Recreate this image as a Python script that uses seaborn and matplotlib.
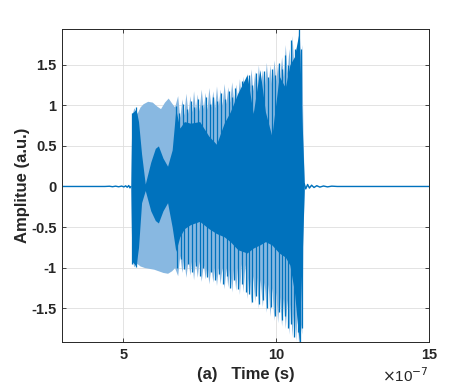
import matplotlib
matplotlib.use("Agg")
import matplotlib.pyplot as plt
import seaborn as sns
import pandas as pd

# time values are in units of 1e-7 s
# quiet baseline before and after the burst
pre_t = [3.0, 4.4, 4.55, 4.65, 4.75, 4.85, 4.95, 5.02, 5.08, 5.13, 5.18, 5.22, 5.25]
pre_a = [0.0, 0.0, 0.003, -0.003, 0.004, -0.004, 0.005, -0.006, 0.008, -0.01, 0.012, -0.018, 0.0]
post_t = [10.92, 10.97, 11.03, 11.09, 11.16, 11.24, 11.33, 11.43, 11.55, 11.68, 11.82, 12.0, 15.0]
post_a = [0.035, -0.03, 0.025, -0.02, 0.016, -0.013, 0.01, -0.008, 0.006, -0.005, 0.004, 0.0, 0.0]

# outer (light) envelope, upper edge
up_t = [5.25, 5.28, 5.35, 5.45, 5.55, 5.65, 5.8, 5.95, 6.1, 6.22, 6.35, 6.47, 6.58, 6.68,
        6.78, 6.85, 6.92, 6.98, 7.05, 7.12, 7.18, 7.24, 7.3, 7.36, 7.42, 7.48, 7.55, 7.62,
        7.68, 7.74, 7.8, 7.87, 7.93, 7.99, 8.05, 8.11, 8.17, 8.23, 8.3, 8.36, 8.42, 8.48,
        8.55, 8.61, 8.68, 8.74, 8.8, 8.86, 8.92, 8.98, 9.05, 9.11, 9.18, 9.24, 9.3, 9.36,
        9.42, 9.48, 9.55, 9.61, 9.68, 9.74, 9.8, 9.86, 9.93, 9.99, 10.05, 10.11, 10.18,
        10.24, 10.3, 10.36, 10.42, 10.47, 10.52, 10.58, 10.64, 10.69, 10.74, 10.8, 10.84,
        10.88, 10.92]
up_a = [0.0, 0.88, 0.97, 0.9, 0.98, 1.02, 1.05, 1.04, 0.99, 0.96, 1.04, 1.09, 1.03, 0.98,
        1.12, 0.85, 1.08, 0.88, 1.15, 0.9, 1.12, 0.92, 1.18, 0.95, 1.14, 0.93, 1.2, 0.96,
        1.16, 0.95, 1.22, 0.98, 1.18, 0.97, 1.24, 1.0, 1.2, 1.0, 1.27, 1.02, 1.23, 1.04,
        1.29, 1.05, 1.26, 1.08, 1.33, 1.1, 1.36, 1.12, 1.4, 1.15, 1.45, 1.18, 1.42, 1.2,
        1.5, 1.22, 1.44, 1.2, 1.53, 1.25, 1.5, 1.22, 1.56, 1.3, 1.52, 1.32, 1.6,
        1.35, 1.75, 1.4, 1.7, 1.45, 1.86, 1.5, 1.72, 1.55, 2.0, 1.6, 1.75,
        0.6, 0.05]

# outer (light) envelope, lower edge
lo_t = [5.25, 5.28, 5.35, 5.45, 5.55, 5.7, 5.85, 6.0, 6.15, 6.3, 6.45, 6.58, 6.68,
        6.78, 6.85, 6.92, 6.98, 7.05, 7.12, 7.18, 7.24, 7.3, 7.36, 7.42, 7.48, 7.55, 7.62,
        7.68, 7.74, 7.8, 7.87, 7.93, 7.99, 8.05, 8.11, 8.17, 8.23, 8.3, 8.36, 8.42, 8.48,
        8.55, 8.61, 8.68, 8.74, 8.8, 8.86, 8.92, 8.98, 9.05, 9.11, 9.18, 9.24, 9.3, 9.36,
        9.42, 9.48, 9.55, 9.61, 9.68, 9.74, 9.8, 9.86, 9.93, 9.99, 10.05, 10.11, 10.18,
        10.24, 10.3, 10.36, 10.42, 10.47, 10.52, 10.58, 10.64, 10.69, 10.74, 10.8, 10.84,
        10.88, 10.92]
lo_a = [0.0, -0.9, -0.99, -0.95, -0.98, -1.0, -1.01, -1.02, -1.04, -1.06, -1.07, -1.04, -1.0,
        -1.1, -0.85, -1.06, -0.88, -1.12, -0.9, -1.09, -0.9, -1.15, -0.92, -1.12, -0.92, -1.17, -0.95,
        -1.14, -0.95, -1.2, -0.98, -1.18, -0.98, -1.22, -1.0, -1.2, -1.0, -1.26, -1.0, -1.24, -1.0,
        -1.3, -1.0, -1.28, -0.98, -1.33, -0.95, -1.3, -0.96, -1.38, -1.05, -1.45, -1.1, -1.42, -1.12,
        -1.5, -1.15, -1.48, -1.18, -1.55, -1.2, -1.6, -1.25, -1.65, -1.3, -1.68, -1.35, -1.72,
        -1.38, -1.75, -1.4, -1.82, -1.45, -1.85, -1.5, -1.9, -1.55, -1.98, -1.7, -1.82,
        -0.6, -0.05]

# dense (dark) core of the signal
core_t = [5.25, 5.28, 5.42, 5.5, 5.6, 5.72, 5.9, 6.05, 6.15, 6.3, 6.45, 6.6, 6.72, 6.85,
          7.0, 7.2, 7.5, 7.8, 8.05, 8.3, 8.5, 8.75, 9.05, 9.25, 9.47, 9.65, 9.86, 10.1,
          10.3, 10.45, 10.6, 10.75, 10.85, 10.92]
core_up = [0.0, 0.9, 0.95, 0.8, 0.4, 0.03, 0.3, 0.47, 0.5, 0.35, 0.25, 0.45, 0.95, 0.72,
           0.8, 0.78, 0.8, 0.62, 0.52, 0.78, 0.92, 1.15, 1.38, 0.9, 1.44, 0.92, 0.62, 1.36,
           1.22, 1.5, 1.6, 1.9, 0.8, 0.05]
core_lo = [0.0, -0.92, -0.98, -0.75, -0.2, -0.05, -0.3, -0.42, -0.45, -0.3, -0.2, -0.5, -0.8, -0.62,
           -0.52, -0.47, -0.43, -0.52, -0.58, -0.62, -0.68, -0.78, -0.82, -0.76, -0.72, -0.68, -0.72, -0.82,
           -0.87, -0.97, -1.3, -1.9, -0.9, -0.05]

# individual dark spikes
spk_up_t = [5.3, 5.42, 6.72, 6.83, 6.95, 7.08, 7.2, 7.33, 7.45, 7.58, 7.7, 7.83, 7.95, 8.08,
            8.2, 8.33, 8.45, 8.55, 8.65, 8.78, 8.9, 9.0, 9.12, 9.22, 9.35, 9.47, 9.6, 9.72,
            9.85, 9.97, 10.1, 10.2, 10.3, 10.4, 10.5, 10.62, 10.7, 10.76, 10.83]
spk_up_a = [0.9, 0.98, 0.99, 0.9, 1.02, 0.95, 1.05, 0.98, 1.08, 1.0, 1.1, 1.02, 1.1, 1.05,
            1.15, 1.08, 1.18, 1.1, 1.22, 1.15, 1.3, 1.2, 1.38, 1.25, 1.4, 1.3, 1.42, 1.35,
            1.45, 1.38, 1.52, 1.45, 1.62, 1.5, 1.8, 1.7, 1.6, 1.98, 1.7]
spk_lo_t = [5.3, 5.42, 6.75, 6.88, 7.0, 7.12, 7.25, 7.38, 7.5, 7.62, 7.75, 7.88, 8.0, 8.12,
            8.25, 8.38, 8.5, 8.62, 8.75, 8.88, 9.0, 9.1, 9.2, 9.33, 9.45, 9.58, 9.7, 9.82,
            9.95, 10.08, 10.2, 10.3, 10.4, 10.5, 10.6, 10.7, 10.78, 10.85]
spk_lo_a = [-0.95, -0.99, -1.0, -0.9, -1.02, -0.95, -1.05, -0.98, -1.1, -1.0, -1.12, -1.05, -1.15, -1.08,
            -1.2, -1.1, -1.25, -1.15, -1.27, -1.2, -1.3, -1.32, -1.42, -1.35, -1.45, -1.4, -1.5, -1.48,
            -1.6, -1.55, -1.65, -1.6, -1.75, -1.7, -1.85, -1.8, -1.98, -1.75]

x_ticks = [5, 10, 15]
x_tick_labels = ["5", "10", "15"]
y_ticks = [-1.5, -1, -0.5, 0, 0.5, 1, 1.5]
y_tick_labels = ["-1.5", "-1", "-0.5", "0", "0.5", "1", "1.5"]

blue = "#0072BD"
light = "#88b8e1"

sns.set_style("ticks")
plt.rcParams["font.family"] = ["Liberation Sans", "DejaVu Sans"]

fig = plt.figure(figsize=(4.74, 3.88), dpi=100)
ax = fig.add_axes([0.131, 0.118, 0.774, 0.807])

# light outer envelope
ax.fill_between(up_t, 0, up_a, color=light, lw=0)
ax.fill_between(lo_t, 0, lo_a, color=light, lw=0)
# dark core
ax.fill_between(core_t, core_lo, core_up, color=blue, lw=0)
ax.vlines(spk_up_t, 0, spk_up_a, color=blue, lw=0.9)
ax.vlines(spk_lo_t, 0, spk_lo_a, color=blue, lw=0.9)

# baseline
base = pd.DataFrame({"t": pre_t + post_t, "a": pre_a + post_a,
                     "part": ["pre"] * len(pre_t) + ["post"] * len(post_t)})
for part, grp in base.groupby("part"):
    sns.lineplot(data=grp, x="t", y="a", color=blue, lw=1.0, ax=ax, sort=False,
                 estimator=None)

ax.set_xlim(3, 15)
ax.set_ylim(-1.92, 1.94)
ax.set_xticks(x_ticks)
ax.set_xticklabels(x_tick_labels, fontsize=10.5, fontweight="bold", color="#262626")
ax.set_yticks(y_ticks)
ax.set_yticklabels(y_tick_labels, fontsize=10.5, fontweight="bold", color="#262626")
ax.tick_params(direction="in", length=3, width=0.6, top=True, right=True,
               colors="#262626", pad=4)
ax.grid(True, color="#dedede", lw=0.6)
ax.set_axisbelow(True)
for sp in ax.spines.values():
    sp.set_color("#262626")
    sp.set_linewidth(0.7)

ax.set_xlabel("(a)   Time (s)", fontsize=12, fontweight="bold", labelpad=4)
ax.set_ylabel("Amplitue (a.u.)", fontsize=12, fontweight="bold", labelpad=1)
fig.text(0.905, 0.008, r"$\times$10$^{-7}$", ha="right", va="bottom", fontsize=11,
         color="#262626")

fig.savefig("out.png", dpi=100)
